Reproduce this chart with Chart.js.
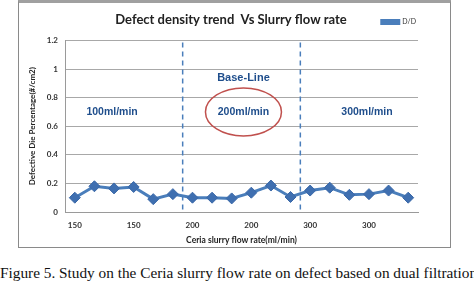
<!DOCTYPE html>
<html>
<head>
<meta charset="utf-8">
<script src="https://cdn.jsdelivr.net/npm/chart.js@4.4.1/dist/chart.umd.min.js"></script>
<style>
    body { margin: 0; background: #fff; width: 474px; height: 284px; overflow: hidden; position: relative; }
    #frame { position: absolute; left: 18px; top: 0; width: 431px; height: 244px; border: 1px solid #8a8a8a; border-top: 3px solid #a0a0a0; }
    #frame canvas { display: block; }
    #caption { position: absolute; left: 0; top: 265px; white-space: nowrap; font: 15.3px/1 "Liberation Serif", serif; color: #111; }
</style>
</head>
<body>
<div id="frame"><canvas id="defectChart" width="431" height="244"></canvas></div>
<div id="caption">Figure 5. Study on the Ceria slurry flow rate on defect based on dual filtration</div>
<script>
// Data
const flowRates = ['150', '150', '150', '150', '150', '150',
                   '200', '200', '200', '200', '200', '200',
                   '300', '300', '300', '300', '300', '300'];
const defectDensity = [0.10, 0.18, 0.165, 0.175, 0.09, 0.125,
                       0.10, 0.10, 0.095, 0.135, 0.185, 0.105,
                       0.15, 0.17, 0.12, 0.125, 0.15, 0.10];
const yTicks = [0, 0.2, 0.4, 0.6, 0.8, 1, 1.2];
const regionLabels = ['100ml/min', '200ml/min', '300ml/min'];
// where each region label sits, in category index units
const regionLabelAt = [1.9, 8.6, 14.9];

const lineBlue = '#4a7ebb';
const textBlue = '#1f4e8c';

// Dashed dividers, region labels and the red circle
const regionPlugin = {
    id: 'regions',
    afterDatasetsDraw(chart) {
        const ctx = chart.ctx;
        const x = chart.scales.x;
        const y = chart.scales.y;
        const area = chart.chartArea;
        const mid = (a, b) => (x.getPixelForValue(a) + x.getPixelForValue(b)) / 2;

        ctx.save();
        ctx.strokeStyle = lineBlue;
        ctx.lineWidth = 1.5;
        ctx.setLineDash([5, 4]);
        [mid(5, 6), mid(11, 12)].forEach(px => {
            ctx.beginPath();
            ctx.moveTo(px, area.top + 2);
            ctx.lineTo(px, area.bottom);
            ctx.stroke();
        });
        ctx.setLineDash([]);

        const labelY = y.getPixelForValue(0.7);
        const centers = regionLabelAt.map(v => x.getPixelForValue(v));
        ctx.fillStyle = textBlue;
        ctx.textAlign = 'center';
        ctx.textBaseline = 'middle';
        ctx.font = 'bold 10.5px "Liberation Sans", Arial';
        regionLabels.forEach((t, i) => ctx.fillText(t, centers[i], labelY));

        ctx.font = 'bold 11px "Liberation Sans", Arial';
        ctx.fillText('Base-Line', centers[1], y.getPixelForValue(0.935));

        ctx.strokeStyle = '#c0504d';
        ctx.lineWidth = 1.5;
        ctx.beginPath();
        ctx.ellipse(centers[1], labelY, 38, 24, 0, 0, Math.PI * 2);
        ctx.stroke();
        ctx.restore();
    }
};

function initDefectChart() {
    const ctx = document.getElementById('defectChart').getContext('2d');
    new Chart(ctx, {
        type: 'line',
        data: {
            labels: flowRates,
            datasets: [{
                label: 'D/D',
                data: defectDensity,
                borderColor: lineBlue,
                backgroundColor: '#3f6fb0',
                borderWidth: 3,
                pointStyle: 'rectRot',
                pointRadius: 5.5,
                pointBorderColor: '#3a68a8',
                pointBorderWidth: 1,
                tension: 0
            }]
        },
        options: {
            responsive: false,
            animation: false,
            // side padding kept near equal so the title is centred on the frame
            layout: { padding: { top: 13.5, left: 25, right: 32, bottom: 2 } },
            plugins: {
                // legend sits above the title box, title is pulled up beside it
                title: {
                    display: true,
                    weight: 500,
                    text: 'Defect density trend  Vs Slurry flow rate',
                    color: '#222',
                    font: { family: 'Lato', size: 13, weight: 'bold' },
                    padding: { top: -23.3, bottom: 12.6 }
                },
                legend: {
                    position: 'top',
                    align: 'end',
                    labels: {
                        boxWidth: 17,
                        boxHeight: 3,
                        color: '#333',
                        font: { family: 'Lato', size: 7 },
                        padding: 2
                    }
                },
                tooltip: { enabled: false }
            },
            scales: {
                x: {
                    offset: true,
                    afterFit: s => { s.height = 33; },
                    grid: { display: false, drawTicks: false },
                    border: { color: '#9a9a9a' },
                    ticks: {
                        autoSkip: false,
                        maxRotation: 0,
                        padding: 9,
                        color: '#333',
                        font: { family: 'Lato', size: 8, weight: 'bold' },
                        callback: (v, i) => (i % 3 === 0 ? flowRates[i] : '')
                    },
                    title: {
                        display: true,
                        text: 'Ceria slurry flow rate(ml/min)',
                        color: '#222',
                        font: { family: 'Lato', size: 8.5, weight: 'bold' },
                        padding: 0
                    }
                },
                y: {
                    min: 0,
                    max: 1.2,
                    afterFit: s => { s.width = 21; },
                    afterBuildTicks: axis => { axis.ticks = yTicks.map(v => ({ value: v })); },
                    grid: { color: '#a8a8a8', drawTicks: false },
                    border: { color: '#9a9a9a' },
                    ticks: {
                        padding: 7,
                        color: '#333',
                        font: { family: 'Lato', size: 8, weight: 'bold' },
                        callback: v => String(Math.round(v * 10) / 10)
                    },
                    title: {
                        display: true,
                        text: 'Defective Die Percentage(#/cm2)',
                        color: '#222',
                        font: { family: 'Lato', size: 8, weight: 'bold' },
                        padding: { top: -16, bottom: 0 }
                    }
                }
            }
        },
        plugins: [regionPlugin]
    });
}

document.addEventListener('DOMContentLoaded', initDefectChart);
</script>
</body>
</html>
